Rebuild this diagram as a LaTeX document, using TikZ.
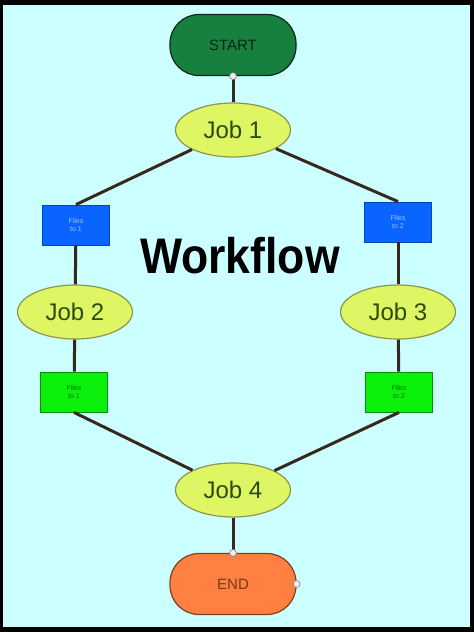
\documentclass[tikz,border=0pt]{standalone}
\usepackage{fontspec}
\setmainfont{Liberation Sans}
\usetikzlibrary{shapes.geometric}

\definecolor{bgcyan}{RGB}{204,255,255}
\definecolor{startgreen}{RGB}{24,128,62}
\definecolor{endorange}{RGB}{255,128,64}
\definecolor{jobyellow}{RGB}{222,246,100}
\definecolor{jobline}{RGB}{140,150,80}
\definecolor{jobtext}{RGB}{45,75,15}
\definecolor{fileblue}{RGB}{10,100,255}
\definecolor{filegreen}{RGB}{10,240,10}
\definecolor{wire}{RGB}{55,40,30}

\begin{document}
\begin{tikzpicture}[x=1pt, y=-1pt,
    terminal/.style={draw, line width=1.2pt, rounded corners=29pt,
        minimum width=126pt, minimum height=61pt, inner sep=0pt, font=\fontsize{15}{15}\selectfont},
    job/.style={ellipse, draw=jobline, line width=1.2pt, fill=jobyellow, text=jobtext,
        minimum width=115pt, minimum height=54pt, inner sep=0pt, font=\fontsize{24}{24}\selectfont},
    filebox/.style={draw, line width=0.8pt, minimum width=67pt, minimum height=40pt,
        inner sep=0pt, align=center, font=\fontsize{7}{7.5}\selectfont},
    link/.style={draw=wire, line width=3pt},
    handle/.style={circle, draw=gray, fill=white!85!gray, line width=0.6pt, inner sep=0pt, minimum size=7pt}]

    % frame and background
    \fill [black] (0,0) rectangle (474,632);
    \fill [bgcyan] (3,5) rectangle (470,627);

    % nodes
    \node [terminal, draw=black!70!startgreen, fill=startgreen, text=black!70!startgreen] (start) at (233,45) {START};
    \node [job] (job1) at (233,130) {Job 1};
    \node [filebox, draw=fileblue!70!black, fill=fileblue, text=fileblue!40!white] (files1) at (76,225) {Files\\to 1};
    \node [filebox, draw=fileblue!70!black, fill=fileblue, text=fileblue!40!white] (files2) at (398,222) {Files\\to 2};
    \node [job] (job2) at (75,312) {Job 2};
    \node [job] (job3) at (398,312) {Job 3};
    \node [filebox, draw=filegreen!60!black, fill=filegreen, text=filegreen!45!black] (files3) at (74,392) {Files\\to 1};
    \node [filebox, draw=filegreen!60!black, fill=filegreen, text=filegreen!45!black] (files4) at (399,392) {Files\\to 2};
    \node [job] (job4) at (233,490) {Job 4};
    \node [terminal, draw=endorange!50!black, fill=endorange, text=endorange!45!black] (end) at (233,584) {END};

    \node [font=\fontsize{50}{50}\selectfont\bfseries, xscale=0.89] (title) at (240,256) {Workflow};

    % connectors
    \draw [link] (start) -- (job1);
    \draw [link] (job1) -- (files1.north);
    \draw [link] (job1) -- (files2.north);
    \draw [link] (files1) -- (job2);
    \draw [link] (files2) -- (job3);
    \draw [link] (job2) -- (files3);
    \draw [link] (job3) -- (files4);
    \draw [link] (files3.south) -- (job4);
    \draw [link] (files4.south) -- (job4);
    \draw [link] (job4) -- (end);

    % connection handles
    \node [handle] (h1) at (start.south) {};
    \node [handle] (h2) at (end.north) {};
    \node [handle] (h3) at (end.east) {};

  \end{tikzpicture}
\end{document}
